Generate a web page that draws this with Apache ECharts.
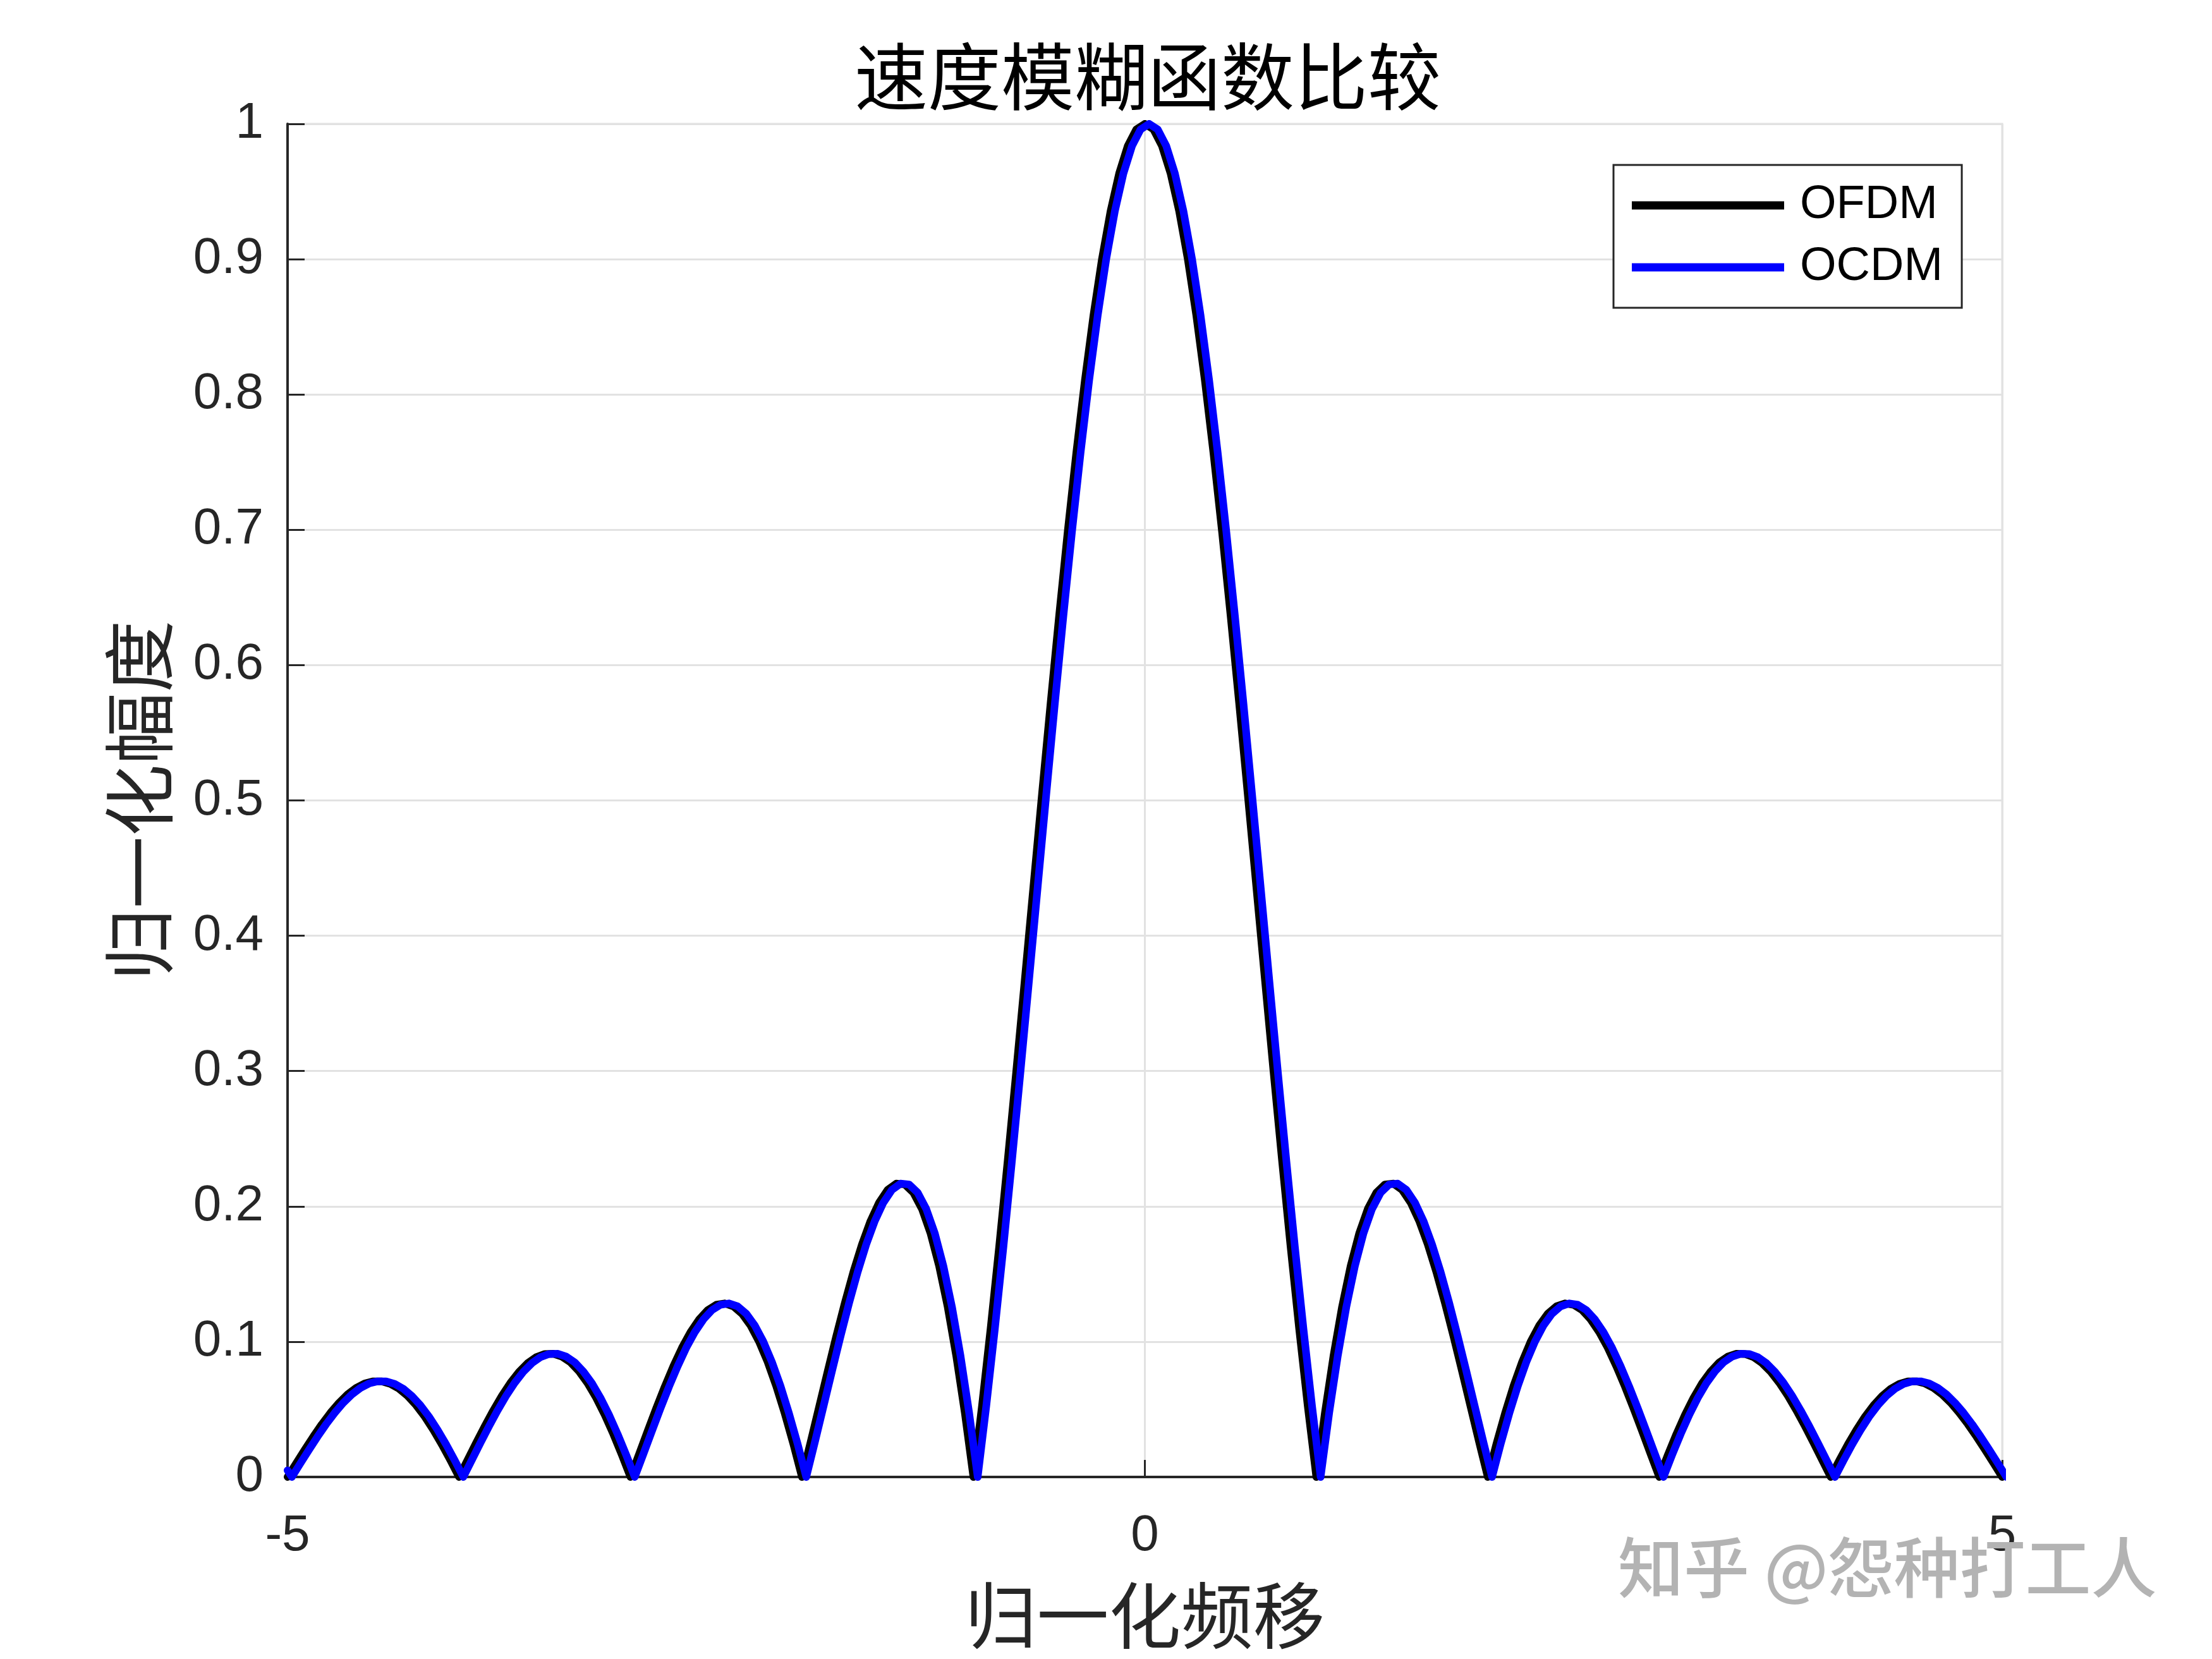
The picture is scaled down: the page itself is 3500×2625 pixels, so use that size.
<!DOCTYPE html>
<html>
<head>
<meta charset="utf-8">
<script src="https://cdn.jsdelivr.net/npm/echarts@6/dist/echarts.min.js"></script>
<style>
  html, body { margin: 0; padding: 0; background: #ffffff; }
  #chart { width: 3500px; height: 2625px; }
</style>
</head>
<body>
<div id="chart"></div>
<script>
// ---- data ----
const titleText = '速度模糊函数比较';
const xAxisName = '归一化频移';
const yAxisName = '归一化幅度';
const seriesNames = ['OFDM', 'OCDM'];
const xTicks = [-5, 0, 5];
const yTicks = [0, 0.1, 0.2, 0.3, 0.4, 0.5, 0.6, 0.7, 0.8, 0.9, 1];

// OFDM curve: normalised frequency shift and normalised amplitude
const ofdmFreq = [
  -5.00,-4.95,-4.90,-4.85,-4.80,-4.75,-4.70,-4.65,-4.60,-4.55,
  -4.50,-4.45,-4.40,-4.35,-4.30,-4.25,-4.20,-4.15,-4.10,-4.05,
  -4.00,-3.95,-3.90,-3.85,-3.80,-3.75,-3.70,-3.65,-3.60,-3.55,
  -3.50,-3.45,-3.40,-3.35,-3.30,-3.25,-3.20,-3.15,-3.10,-3.05,
  -3.00,-2.95,-2.90,-2.85,-2.80,-2.75,-2.70,-2.65,-2.60,-2.55,
  -2.50,-2.45,-2.40,-2.35,-2.30,-2.25,-2.20,-2.15,-2.10,-2.05,
  -2.00,-1.95,-1.90,-1.85,-1.80,-1.75,-1.70,-1.65,-1.60,-1.55,
  -1.50,-1.45,-1.40,-1.35,-1.30,-1.25,-1.20,-1.15,-1.10,-1.05,
  -1.00,-0.95,-0.90,-0.85,-0.80,-0.75,-0.70,-0.65,-0.60,-0.55,
  -0.50,-0.45,-0.40,-0.35,-0.30,-0.25,-0.20,-0.15,-0.10,-0.05,
  0,
  0.05,0.10,0.15,0.20,0.25,0.30,0.35,0.40,0.45,0.50,
  0.55,0.60,0.65,0.70,0.75,0.80,0.85,0.90,0.95,1.00,
  1.05,1.10,1.15,1.20,1.25,1.30,1.35,1.40,1.45,1.50,
  1.55,1.60,1.65,1.70,1.75,1.80,1.85,1.90,1.95,2.00,
  2.05,2.10,2.15,2.20,2.25,2.30,2.35,2.40,2.45,2.50,
  2.55,2.60,2.65,2.70,2.75,2.80,2.85,2.90,2.95,3.00,
  3.05,3.10,3.15,3.20,3.25,3.30,3.35,3.40,3.45,3.50,
  3.55,3.60,3.65,3.70,3.75,3.80,3.85,3.90,3.95,4.00,
  4.05,4.10,4.15,4.20,4.25,4.30,4.35,4.40,4.45,4.50,
  4.55,4.60,4.65,4.70,4.75,4.80,4.85,4.90,4.95,5.00
];
const ofdmAmp = [
  0,0.0101,0.0201,0.0298,0.0390,0.0474,0.0548,0.0610,0.0658,0.0691,
  0.0707,0.0707,0.0688,0.0652,0.0599,0.0530,0.0446,0.0348,0.0240,0.0123,
  0,0.0126,0.0252,0.0375,0.0492,0.0600,0.0696,0.0777,0.0841,0.0886,
  0.0909,0.0911,0.0890,0.0847,0.0780,0.0693,0.0585,0.0459,0.0317,0.0163,
  0,0.0169,0.0339,0.0507,0.0668,0.0818,0.0954,0.1070,0.1164,0.1233,
  0.1273,0.1283,0.1261,0.1207,0.1120,0.1000,0.0850,0.0672,0.0468,0.0243,
  0,0.0255,0.0518,0.0781,0.1039,0.1286,0.1515,0.1719,0.1892,0.2028,
  0.2122,0.2168,0.2162,0.2101,0.1981,0.1801,0.1559,0.1257,0.0894,0.0474,
  0,0.0524,0.1093,0.1700,0.2339,0.3001,0.3679,0.4363,0.5046,0.5716,
  0.6366,0.6987,0.7568,0.8103,0.8584,0.9003,0.9355,0.9634,0.9836,0.9959,
  1,
  0.9959,0.9836,0.9634,0.9355,0.9003,0.8584,0.8103,0.7568,0.6987,0.6366,
  0.5716,0.5046,0.4363,0.3679,0.3001,0.2339,0.1700,0.1093,0.0524,0,
  0.0474,0.0894,0.1257,0.1559,0.1801,0.1981,0.2101,0.2162,0.2168,0.2122,
  0.2028,0.1892,0.1719,0.1515,0.1286,0.1039,0.0781,0.0518,0.0255,0,
  0.0243,0.0468,0.0672,0.0850,0.1000,0.1120,0.1207,0.1261,0.1283,0.1273,
  0.1233,0.1164,0.1070,0.0954,0.0818,0.0668,0.0507,0.0339,0.0169,0,
  0.0163,0.0317,0.0459,0.0585,0.0693,0.0780,0.0847,0.0890,0.0911,0.0909,
  0.0886,0.0841,0.0777,0.0696,0.0600,0.0492,0.0375,0.0252,0.0126,0,
  0.0123,0.0240,0.0348,0.0446,0.0530,0.0599,0.0652,0.0688,0.0707,0.0707,
  0.0691,0.0658,0.0610,0.0548,0.0474,0.0390,0.0298,0.0201,0.0101,0
];

// OCDM curve: same shape, read slightly to the right of the OFDM curve
const ocdmFreq = [
  -5.0,
  -4.975,-4.925,-4.875,-4.825,-4.775,-4.725,-4.675,-4.625,-4.575,-4.525,
  -4.475,-4.425,-4.375,-4.325,-4.275,-4.225,-4.175,-4.125,-4.075,-4.025,
  -3.975,-3.925,-3.875,-3.825,-3.775,-3.725,-3.675,-3.625,-3.575,-3.525,
  -3.475,-3.425,-3.375,-3.325,-3.275,-3.225,-3.175,-3.125,-3.075,-3.025,
  -2.975,-2.925,-2.875,-2.825,-2.775,-2.725,-2.675,-2.625,-2.575,-2.525,
  -2.475,-2.425,-2.375,-2.325,-2.275,-2.225,-2.175,-2.125,-2.075,-2.025,
  -1.975,-1.925,-1.875,-1.825,-1.775,-1.725,-1.675,-1.625,-1.575,-1.525,
  -1.475,-1.425,-1.375,-1.325,-1.275,-1.225,-1.175,-1.125,-1.075,-1.025,
  -0.975,-0.925,-0.875,-0.825,-0.775,-0.725,-0.675,-0.625,-0.575,-0.525,
  -0.475,-0.425,-0.375,-0.325,-0.275,-0.225,-0.175,-0.125,-0.075,-0.025,
  0.025,
  0.075,0.125,0.175,0.225,0.275,0.325,0.375,0.425,0.475,0.525,
  0.575,0.625,0.675,0.725,0.775,0.825,0.875,0.925,0.975,1.025,
  1.075,1.125,1.175,1.225,1.275,1.325,1.375,1.425,1.475,1.525,
  1.575,1.625,1.675,1.725,1.775,1.825,1.875,1.925,1.975,2.025,
  2.075,2.125,2.175,2.225,2.275,2.325,2.375,2.425,2.475,2.525,
  2.575,2.625,2.675,2.725,2.775,2.825,2.875,2.925,2.975,3.025,
  3.075,3.125,3.175,3.225,3.275,3.325,3.375,3.425,3.475,3.525,
  3.575,3.625,3.675,3.725,3.775,3.825,3.875,3.925,3.975,4.025,
  4.075,4.125,4.175,4.225,4.275,4.325,4.375,4.425,4.475,4.525,
  4.575,4.625,4.675,4.725,4.775,4.825,4.875,4.925,4.975,5.025
];
const ocdmAmp = [
  0.0049,
  0,0.0101,0.0201,0.0298,0.0390,0.0474,0.0548,0.0610,0.0658,0.0691,
  0.0707,0.0707,0.0688,0.0652,0.0599,0.0530,0.0446,0.0348,0.0240,0.0123,
  0,0.0126,0.0252,0.0375,0.0492,0.0600,0.0696,0.0777,0.0841,0.0886,
  0.0909,0.0911,0.0890,0.0847,0.0780,0.0693,0.0585,0.0459,0.0317,0.0163,
  0,0.0169,0.0339,0.0507,0.0668,0.0818,0.0954,0.1070,0.1164,0.1233,
  0.1273,0.1283,0.1261,0.1207,0.1120,0.1000,0.0850,0.0672,0.0468,0.0243,
  0,0.0255,0.0518,0.0781,0.1039,0.1286,0.1515,0.1719,0.1892,0.2028,
  0.2122,0.2168,0.2162,0.2101,0.1981,0.1801,0.1559,0.1257,0.0894,0.0474,
  0,0.0524,0.1093,0.1700,0.2339,0.3001,0.3679,0.4363,0.5046,0.5716,
  0.6366,0.6987,0.7568,0.8103,0.8584,0.9003,0.9355,0.9634,0.9836,0.9959,
  1,
  0.9959,0.9836,0.9634,0.9355,0.9003,0.8584,0.8103,0.7568,0.6987,0.6366,
  0.5716,0.5046,0.4363,0.3679,0.3001,0.2339,0.1700,0.1093,0.0524,0,
  0.0474,0.0894,0.1257,0.1559,0.1801,0.1981,0.2101,0.2162,0.2168,0.2122,
  0.2028,0.1892,0.1719,0.1515,0.1286,0.1039,0.0781,0.0518,0.0255,0,
  0.0243,0.0468,0.0672,0.0850,0.1000,0.1120,0.1207,0.1261,0.1283,0.1273,
  0.1233,0.1164,0.1070,0.0954,0.0818,0.0668,0.0507,0.0339,0.0169,0,
  0.0163,0.0317,0.0459,0.0585,0.0693,0.0780,0.0847,0.0890,0.0911,0.0909,
  0.0886,0.0841,0.0777,0.0696,0.0600,0.0492,0.0375,0.0252,0.0126,0,
  0.0123,0.0240,0.0348,0.0446,0.0530,0.0599,0.0652,0.0688,0.0707,0.0707,
  0.0691,0.0658,0.0610,0.0548,0.0474,0.0390,0.0298,0.0201,0.0101,0
];

const watermarkText = '知乎 @怨种打工人';

// ---- chart ----
const CJK = '"Noto Sans CJK SC", "Noto Sans", sans-serif';
const LAT = '"Liberation Sans", Arial, Helvetica, sans-serif';
const AXIS_DARK = '#262626';
const GRID_GRAY = '#e2e2e2';
const LINE_W = 12;

const pairs = (xs, ys) => xs.map((x, i) => [x, ys[i]]);

const chart = echarts.init(document.getElementById('chart'), null, { renderer: 'canvas', width: 3500, height: 2625 });

const option = {
  backgroundColor: '#ffffff',
  animation: false,
  title: {
    text: titleText,
    left: 1811,
    textAlign: 'center',
    top: 58,
    textStyle: { fontFamily: CJK, fontSize: 116, fontWeight: 'normal', color: '#000000' }
  },
  grid: {
    left: 455, right: 332, top: 196, bottom: 288,
    show: true, borderColor: '#dedede', borderWidth: 3, backgroundColor: 'transparent',
    containLabel: false
  },
  legend: {
    data: seriesNames,
    orient: 'vertical',
    left: 2553,
    top: 261,
    icon: 'rect',
    itemWidth: 241,
    itemHeight: 13,
    itemGap: 18,
    padding: [24, 30, 24, 29],
    backgroundColor: '#ffffff',
    borderColor: AXIS_DARK,
    borderWidth: 3,
    borderRadius: 0,
    textStyle: { fontFamily: LAT, fontSize: 74, color: '#000000', lineHeight: 80, padding: [0, 0, 0, 20] }
  },
  xAxis: {
    type: 'value',
    min: xTicks[0],
    max: xTicks[xTicks.length - 1],
    interval: xTicks[1] - xTicks[0],
    name: xAxisName,
    nameLocation: 'middle',
    nameGap: 162,
    nameTextStyle: { fontFamily: CJK, fontSize: 114, color: AXIS_DARK, verticalAlign: 'top' },
    axisLine: { show: true, onZero: false, lineStyle: { color: AXIS_DARK, width: 4 } },
    axisTick: { show: true, inside: true, length: 27, lineStyle: { color: AXIS_DARK, width: 3 } },
    axisLabel: { fontFamily: LAT, fontSize: 80, color: AXIS_DARK, margin: 54 },
    splitLine: { show: true, lineStyle: { color: GRID_GRAY, width: 3 } }
  },
  yAxis: {
    type: 'value',
    min: yTicks[0],
    max: yTicks[yTicks.length - 1],
    interval: 0.1,
    name: yAxisName,
    nameLocation: 'middle',
    nameGap: 178,
    nameTextStyle: { fontFamily: CJK, fontSize: 114, color: AXIS_DARK },
    axisLine: { show: true, onZero: false, lineStyle: { color: AXIS_DARK, width: 4 } },
    axisTick: { show: true, inside: true, length: 27, lineStyle: { color: AXIS_DARK, width: 3 } },
    axisLabel: { fontFamily: LAT, fontSize: 80, color: AXIS_DARK, margin: 38,
      formatter: v => String(Math.round(v * 10) / 10) },
    splitLine: { show: true, lineStyle: { color: GRID_GRAY, width: 3 } }
  },
  series: [
    {
      name: seriesNames[0],
      type: 'line',
      data: pairs(ofdmFreq, ofdmAmp),
      showSymbol: false,
      symbol: 'none',
      smooth: false,
      clip: true,
      color: '#000000',
      lineStyle: { color: '#000000', width: LINE_W, join: 'round', cap: 'round' },
      z: 3
    },
    {
      name: seriesNames[1],
      type: 'line',
      data: pairs(ocdmFreq, ocdmAmp),
      showSymbol: false,
      symbol: 'none',
      smooth: false,
      clip: true,
      color: '#0000ff',
      lineStyle: { color: '#0000ff', width: LINE_W, join: 'round', cap: 'round' },
      z: 4
    }
  ],
  graphic: [
    {
      type: 'text',
      z: 100,
      left: 2560,
      top: 2428,
      style: {
        text: watermarkText,
        font: '500 104px "Noto Sans CJK SC", sans-serif',
        fill: '#b3b3b3'
      }
    }
  ]
};

chart.setOption(option);
</script>
</body>
</html>
